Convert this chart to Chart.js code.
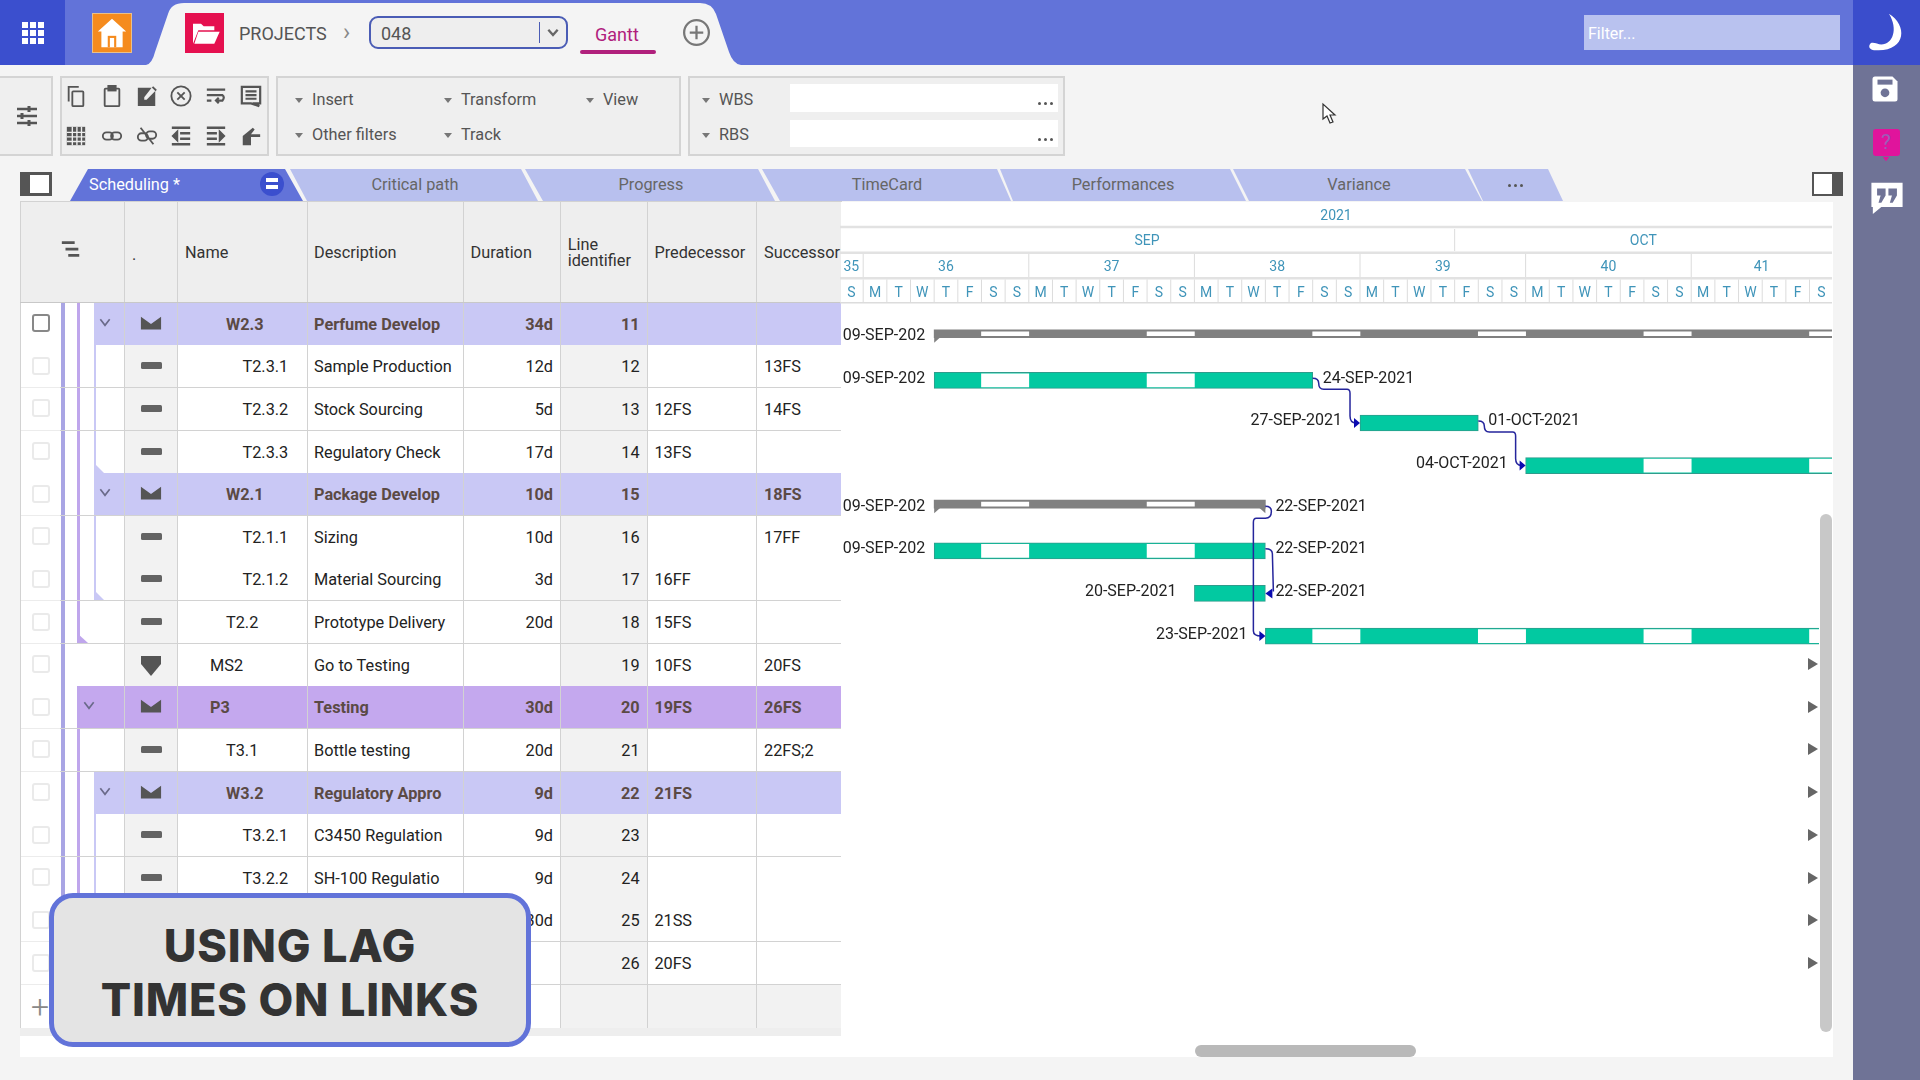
<!DOCTYPE html>
<html>
<head>
<meta charset="utf-8">
<title>Gantt</title>
<script src="https://cdn.jsdelivr.net/npm/chart.js@4/dist/chart.umd.min.js"></script>
<style>
html, body { margin: 0; padding: 0; width: 1920px; height: 1080px; overflow: hidden; background: #f4f4f4; font-family: Roboto, sans-serif; color: #333; }
.abs { position: absolute; }
.t { position: absolute; white-space: nowrap; transform: translateY(-50%); }
.box { position: absolute; background: #efefef; border: 2px solid #d4d4d4; box-sizing: border-box; }
svg { position: absolute; overflow: visible; }
#ganttWrap { position: absolute; left: 840px; top: 202px; width: 992px; height: 839px; }
#ganttWrap canvas { display: block; }
</style>
</head>
<body>
<div id="app"></div>
<div id="ganttBack" class="abs" style="left:841px;top:202px;width:992px;height:855px;background:#fff"></div>
<div id="ganttWrap"><canvas id="gantt" width="992" height="839"></canvas></div>
<div id="over"></div>
<script>
// ---- table columns ----
const rowKinds = ['wp','task','task','task','wp','task','task','task','ms','phase','task','wp','task','task','task','task'];
const rowLevels = [2,3,3,3,2,3,3,2,0,0,2,2,3,3,3,2];
const wbsNames = ['W2.3','T2.3.1','T2.3.2','T2.3.3','W2.1','T2.1.1','T2.1.2','T2.2','MS2','P3','T3.1','W3.2','T3.2.1','T3.2.2','',''];
const descriptions = ['Perfume Develop','Sample Production','Stock Sourcing','Regulatory Check','Package Develop','Sizing','Material Sourcing','Prototype Delivery','Go to Testing','Testing','Bottle testing','Regulatory Appro','C3450 Regulation','SH-100 Regulatio','',''];
const durations = ['34d','12d','5d','17d','10d','10d','3d','20d','','30d','20d','9d','9d','9d','30d',''];
const lineIds = [11,12,13,14,15,16,17,18,19,20,21,22,23,24,25,26];
const predecessors = ['','','12FS','13FS','','','16FF','15FS','10FS','19FS','','21FS','','','21SS','20FS'];
const successors = ['','13FS','14FS','','18FS','17FF','','','20FS','26FS','22FS;2','','','','',''];

// ---- gantt values, days counted from 1 Sep 2021 (1 Oct = 31) ----
const dayNumbers = [5,6,7,8,9,10,11,12,13,14,15,16,17,18,19,20,21,22,23,24,25,26,27,28,29,30,31,32,33,34,35,36,37,38,39,40,41,42,43,44,45,46];
const dayLetters = ['S','M','T','W','T','F','S','S','M','T','W','T','F','S','S','M','T','W','T','F','S','S','M','T','W','T','F','S','S','M','T','W','T','F','S','S','M','T','W','T','F','S'];
const weekLabels = ['35','36','37','38','39','40','41'];
const weekStarts = [5,6,13,20,27,34,41];
const monthLabels = ['SEP','OCT'];
const monthStarts = [5,31];
const yearLabel = '2021';

const taskRows = [1,2,3,5,6,7];
const taskStarts = [9,27,34,9,20,23];
const taskEnds = [25,32,60,23,23,60];
const summaryRows = [0,4];
const summaryStarts = [9,9];
const summaryEnds = [60,23];

const taskOffRows = [1,1,3,3,5,5,7,7,7,7];
const taskOffStarts = [11,18,39,46,11,18,25,32,39,46];
const taskOffEnds = [13,20,41,48,13,20,27,34,41,48];
const summaryOffRows = [0,0,0,0,0,0,4,4];
const summaryOffStarts = [11,18,25,32,39,46,11,18];
const summaryOffEnds = [13,20,27,34,41,48,13,20];

const startLabelRows = [0,1,2,3,4,5,6,7];
const startLabelDays = [9,9,27,34,9,9,20,23];
const startLabels = ['09-SEP-202','09-SEP-202','27-SEP-2021','04-OCT-2021','09-SEP-202','09-SEP-202','20-SEP-2021','23-SEP-2021'];
const endLabelRows = [1,2,4,5,6];
const endLabelDays = [25,32,23,23,23];
const endLabels = ['24-SEP-2021','01-OCT-2021','22-SEP-2021','22-SEP-2021','22-SEP-2021'];

const linkFromRows = [1,2,5,4];
const linkFromDays = [25,32,23,23];
const linkToRows = [2,3,6,7];
const linkToDays = [27,34,23,23];
const linkTypes = ['FS','FS','FF','SUM'];

// ---- page layout helpers ----
const app = document.getElementById('app');
const over = document.getElementById('over');
const rowTop = i => 302.7 + i * 42.62;
const colX = [20, 124, 177, 307, 463, 560, 647, 756, 841];

function el(parent, css, html) {
    const d = document.createElement('div');
    d.style.cssText = 'position:absolute;' + css;
    if (html !== undefined) d.innerHTML = html;
    parent.appendChild(d);
    return d;
}
function txt(parent, x, y, s, size, color, extra) {
    const d = document.createElement('div');
    d.className = 't';
    d.style.cssText = `left:${x}px;top:${y}px;font-size:${size}px;color:${color};${extra || ''}`;
    d.textContent = s;
    parent.appendChild(d);
    return d;
}
function icon(parent, cx, cy, size, inner, color) {
    const h = size / 2;
    const s = `<svg style="left:${cx - h}px;top:${cy - h}px" width="${size}" height="${size}" viewBox="0 0 24 24" fill="none" stroke="${color}" stroke-width="2">${inner}</svg>`;
    parent.insertAdjacentHTML('beforeend', s);
}
function dots(parent, cx, cy, color) {
    [-6, 0, 6].forEach(d => el(parent, `left:${cx + d - 1.5}px;top:${cy - 1.5}px;width:3px;height:3px;border-radius:50%;background:${color}`));
}

// top bar
el(app, 'left:0;top:0;width:1853px;height:65px;background:#6273d9');
el(app, 'left:0;top:0;width:65px;height:65px;background:#3b4fce');
icon(app, 33, 33, 24, '<g fill="#fff" stroke="none"><rect x="1" y="1" width="6" height="6"/><rect x="9" y="1" width="6" height="6"/><rect x="17" y="1" width="6" height="6"/><rect x="1" y="9" width="6" height="6"/><rect x="9" y="9" width="6" height="6"/><rect x="17" y="9" width="6" height="6"/><rect x="1" y="17" width="6" height="6"/><rect x="9" y="17" width="6" height="6"/><rect x="17" y="17" width="6" height="6"/></g>', '#fff');
el(app, 'left:92px;top:13px;width:40px;height:40px;background:#f58b1e;border:1px solid #e9c08a;box-sizing:border-box');
icon(app, 112, 33, 34, '<path d="M12 2 L22 11 H19.5 V22 H4.5 V11 H2 Z" fill="#fff" stroke="none"/><rect x="9" y="14" width="6" height="8" fill="#f58b1e" stroke="none"/><rect x="10.5" y="15.5" width="3" height="6.5" fill="#fff" stroke="none"/>', '#fff');
el(app, 'left:0;top:0;width:800px;height:65px', `<svg style="left:0;top:0" width="800" height="65"><path d="M146 65 Q152 64 155 52 L168 14 Q171 3 184 3 H700 Q712 3 716 14 L729 52 Q733 64 741 65 Z" fill="#f4f4f4"/></svg>`);
el(app, 'left:185px;top:13px;width:39px;height:40px;background:#e5104f');
icon(app, 205, 33, 32, '<path d="M3 5 H9 L11 7 H19 V10 H7 L3 20 Z" fill="#fff" stroke="none"/><path d="M7 11 H23 L19 20 H4 Z" fill="#fff" stroke="none"/>', '#fff');
txt(app, 239, 33, 'PROJECTS', 18, '#555');
txt(app, 343, 32, '›', 24, '#888');
el(app, 'left:369px;top:16px;width:199px;height:33px;background:#eee;border:2px solid #4a5cb5;border-radius:9px;box-sizing:border-box');
txt(app, 381, 33, '048', 18, '#555');
el(app, 'left:539px;top:22px;width:1px;height:21px;background:#4a5cb5');
icon(app, 553, 32, 14, '<path d="M4 8 L12 17 L20 8" stroke-width="4"/>', '#666');
txt(app, 595, 34, 'Gantt', 18, '#b0207c');
el(app, 'left:580px;top:50px;width:76px;height:4px;background:#b0207c;border-radius:2px');
icon(app, 696, 32, 27, '<circle cx="12" cy="12" r="11"/><path d="M12 6 V18 M6 12 H18"/>', '#777');
el(app, 'left:1584px;top:15px;width:256px;height:35px;background:#b9c2ef');
txt(app, 1588, 33, 'Filter...', 16, '#fff');

// right sidebar
el(app, 'left:1853px;top:0;width:67px;height:1080px;background:#6f7396');
el(app, 'left:1853px;top:0;width:67px;height:65px;background:#3a4dcc');
icon(app, 1887, 33, 46, '<path d="M13 2 C23 8 22 22 6 21 C4 21 2 20 3 18 C4 16 7 18 9 18 C15 18 18 10 13 2 Z" fill="#fff" stroke="none"/>', '#fff');
icon(app, 1885, 89, 30, '<path d="M2 4 Q2 2 4 2 H18 L22 6 V20 Q22 22 20 22 H4 Q2 22 2 20 Z" fill="#fff" stroke="none"/><rect x="6" y="4.5" width="12" height="4" fill="#6f7396" stroke="none"/><circle cx="12" cy="15" r="3.5" fill="#6f7396" stroke="none"/>', '#fff');
el(app, 'left:1873px;top:129px;width:27px;height:27px;background:#e0149c;border-radius:3px');
icon(app, 1886, 160, 8, '<path d="M2 2 H22 L12 16 Z" fill="#e0149c" stroke="none"/>', '#e0149c');
txt(app, 1881, 142, '?', 21, '#9c5cb8');
icon(app, 1887, 197, 34, '<path d="M1 2 H23 V19 H8 L2 24 V19 H1 Z" fill="#fff" stroke="none"/><path d="M5 6 H11 V11 L8 16 H6 L7.5 11 H5 Z M13 6 H19 V11 L16 16 H14 L15.5 11 H13 Z" fill="#6f7396" stroke="none"/>', '#fff');

// toolbar
[[-2, 55], [60, 209], [276, 405], [688, 377]].forEach(b => {
    el(app, `left:${b[0]}px;top:76px;width:${b[1]}px;height:80px`).className = 'box';
});
icon(app, 27, 116, 24, '<path d="M2 5 H22 M2 12 H22 M2 19 H22" stroke-width="2.5"/><path d="M14 2 V8 M7 9 V15 M14 16 V22" stroke-width="3"/>', '#555');
const toolIcons = [
    '<rect x="8" y="7" width="12" height="16" rx="1"/><path d="M4 18 V2 H15"/>',
    '<rect x="4" y="4" width="16" height="19" rx="1"/><rect x="8" y="1" width="8" height="5" fill="#555"/>',
    '<path d="M3 4 H15 L8 13 V17 H12 L20 9 V22 H3 Z" fill="#555"/><path d="M18 2 L22 6" />',
    '<circle cx="12" cy="12" r="10.5"/><path d="M8 8 L16 16 M16 8 L8 16"/>',
    '<path d="M2 5 H22 M2 11 H19 Q22 13 19 17 H13 M2 17 H7 M15 14 L12 17 L15 20" stroke-width="2.4"/>',
    '<path d="M2 2 H22 V20 H17 L21 23 L12 20 H2 Z M6 7 H18 M6 11 H18 M6 15 H18" stroke-width="2.4"/>',
    '<rect x="2" y="2" width="20" height="20" fill="#555" stroke="none"/><path d="M2 8 H22 M2 13 H22 M2 18 H22 M8 2 V22 M13 2 V22 M18 2 V22" stroke="#eee" stroke-width="1.5"/>',
    '<rect x="2" y="8" width="11" height="8" rx="4"/><rect x="11" y="8" width="11" height="8" rx="4"/>',
    '<rect x="2" y="9" width="11" height="8" rx="4"/><rect x="11" y="7" width="11" height="8" rx="4"/><path d="M5 3 L19 21"/>',
    '<path d="M2 3 H22 M11 9 H22 M11 15 H22 M2 21 H22" stroke-width="2.6"/><path d="M8 7 L3 12 L8 17 Z" fill="#555"/>',
    '<path d="M2 3 H22 M2 9 H13 M2 15 H13 M2 21 H22" stroke-width="2.6"/><path d="M16 7 L21 12 L16 17 Z" fill="#555"/>',
    '<path d="M3 22 V12 L14 3 L16 5 L12 10 H22 V13 H12 V22 Z" fill="#555" stroke="none"/>'
];
const toolX = [76, 112, 147, 181, 216, 251];
toolIcons.forEach((p, i) => icon(app, toolX[i % 6], i < 6 ? 96 : 136, 22, p, '#555'));

const menuLabels = ['Insert', 'Transform', 'View', 'Other filters', 'Track', 'WBS', 'RBS'];
const menuX = [312, 461, 603, 312, 461, 719, 719];
const menuY = [99, 99, 99, 134, 134, 99, 134];
menuLabels.forEach((m, i) => {
    txt(app, menuX[i], menuY[i], m, 16.3, '#555');
    el(app, `left:${menuX[i] - 17}px;top:${menuY[i] - 1}px;width:0;height:0;border-left:4px solid transparent;border-right:4px solid transparent;border-top:5px solid #777`);
});
[84, 120].forEach(y => {
    el(app, `left:790px;top:${y}px;width:268px;height:${y === 84 ? 28 : 27}px;background:#fff`);
    dots(app, 1045, y + 19, '#555');
});

// tabs
const tabLabels = ['Scheduling *', 'Critical path', 'Progress', 'TimeCard', 'Performances', 'Variance', ''];
const tabShapes = [[70,88,285,303],[307,290,521,538],[543,525,758,775],[780,762,997,1011],[1013,1000,1230,1246],[1249,1233,1465,1482],[1483,1468,1548,1563]];
const tabCenters = [0, 415, 651, 887, 1123, 1359, 1515];
tabLabels.forEach((t, i) => {
    const s = tabShapes[i];
    const fill = i === 0 ? '#6273d9' : '#b8c0ee';
    el(app, 'left:0;top:169px;width:1600px;height:32px', `<svg style="left:0;top:0" width="1600" height="32"><path d="M${s[0]} 32 L${s[1]} 0 H${s[2]} L${s[3]} 32 Z" fill="${fill}"/></svg>`);
    if (i === 0) txt(app, 89, 184, t, 16.3, '#fff');
    else if (t) txt(app, tabCenters[i], 184, t, 16.3, '#666', 'transform:translate(-50%,-50%)');
});
dots(app, 1515, 185, '#555');
el(app, 'left:260px;top:172px;width:24px;height:24px;border-radius:50%;background:#3b4fce');
el(app, 'left:266px;top:178px;width:12px;height:4px;background:#fff');
el(app, 'left:266px;top:185px;width:12px;height:4px;background:#fff');
el(app, 'left:20px;top:172px;width:32px;height:24px;background:#fff;border:3px solid #555;border-left-width:10px;box-sizing:border-box');
el(app, 'left:1812px;top:172px;width:31px;height:24px;background:#fff;border:2px solid #555;border-right-width:11px;box-sizing:border-box');

// table header
el(app, `left:20px;top:201px;width:821px;height:101.7px;background:#eee`);
txt(app, 185, 252, 'Name', 16.3, '#333');
txt(app, 314, 252, 'Description', 16.3, '#333');
txt(app, 470.6, 252, 'Duration', 16.3, '#333');
txt(app, 567.7, 244, 'Line', 16.3, '#333');
txt(app, 567.7, 260, 'identifier', 16.3, '#333');
txt(app, 654.4, 252, 'Predecessor', 16.3, '#333');
txt(app, 764, 252, 'Successor', 16.3, '#333');
txt(app, 132, 254, '.', 16.3, '#333');
icon(app, 71, 249, 22, '<path d="M2 5 H16 M6 12 H20 M9 19 H21" stroke-width="3"/>', '#555');

// table body
const rowBand = { wp: '#c9c8f5', phase: '#c4a8ee' };
const bandStart = { wp: 93.5, phase: 77 };
const textPad = [210, 0, 226, 242.5];
lineIds.forEach((id, i) => {
    const top = rowTop(i), kind = rowKinds[i], mid = top + 21;
    const bold = kind === 'wp' || kind === 'phase';
    const ink = bold ? '#5b4a45' : '#222';
    const weight = bold ? 'font-weight:700;' : '';
    el(app, `left:60px;top:${top}px;width:781px;height:42.62px;background:#fff`);
    el(app, `left:124px;top:${top}px;width:53.2px;height:42.62px;background:#f2f2f2`);
    el(app, `left:560px;top:${top}px;width:87px;height:42.62px;background:#f2f2f2`);
    el(app, `left:20px;top:${top}px;width:40px;height:42.62px;background:#fff`);
    if (bold) {
        el(app, `left:${bandStart[kind]}px;top:${top}px;width:${841 - bandStart[kind]}px;height:42.62px;background:${rowBand[kind]}`);
        const cx = bandStart[kind] + 11.5;
        icon(app, cx, mid - 2, 16, '<path d="M5 8 L12 17 L19 8" stroke-width="2.5"/>', '#6a6a8a');
    }
    // checkbox
    el(app, `left:32px;top:${mid - 9.5}px;width:18px;height:18px;box-sizing:border-box;background:#fff;border-radius:3px;border:${i === 0 ? '2px solid #888' : '2px solid #eaeaea'}`);
    // type icon
    if (bold) icon(app, 151, mid, 22, '<path d="M1 4 L12 12 L23 4 V18 H1 Z" fill="#555" stroke="none"/>', '#555');
    else if (kind === 'task') el(app, `left:140.5px;top:${mid - 4}px;width:21px;height:7px;border-radius:1.5px;background:#636363`);
    else icon(app, 151, mid, 24, '<path d="M2 3 H22 V11 L12 23 L2 11 Z" fill="#555" stroke="none"/>', '#555');
    // text cells
    if (wbsNames[i]) txt(app, textPad[rowLevels[i]], mid, wbsNames[i], 16.3, ink, weight);
    if (descriptions[i]) txt(app, 314, mid, descriptions[i], 16.3, ink, weight);
    if (durations[i]) txt(app, 553, mid, durations[i], 16.3, ink, weight + 'transform:translate(-100%,-50%)');
    txt(app, 639.6, mid, String(id), 16.3, ink, weight + 'transform:translate(-100%,-50%)');
    if (predecessors[i]) txt(app, 654.4, mid, predecessors[i], 16.3, ink, weight);
    if (successors[i]) txt(app, 764, mid, successors[i], 16.3, ink, weight);
    // tree guides
    el(app, `left:61px;top:${top}px;width:3.5px;height:42.62px;background:#a9a5e4`);
    if (i !== 8) el(app, `left:77px;top:${top}px;width:3px;height:42.62px;background:#bfa6ec`);
    if ([1, 2, 3, 5, 6, 12, 13].includes(i)) el(app, `left:93.5px;top:${top}px;width:2.5px;height:42.62px;background:#c9c8f5`);
    el(app, `left:60px;top:${top + 42}px;width:781px;height:1px;background:#d2d2d2`);
    el(app, `left:20px;top:${top + 42}px;width:40px;height:1px;background:#ececec`);
    // group end corners
    if (i === 3 || i === 6) el(app, `left:94px;top:${top + 32}px;width:0;height:0;border-left:10px solid #c9c8f5;border-top:10px solid transparent`);
    if (i === 7) el(app, `left:77px;top:${top + 32}px;width:0;height:0;border-left:11px solid #bfa6ec;border-top:10px solid transparent`);
});
// empty add row
el(app, `left:20px;top:${rowTop(16)}px;width:821px;height:43px;background:#f2f2f2`);
el(app, `left:20px;top:${rowTop(16)}px;width:540px;height:43px;background:#fff`);
txt(app, 31, rowTop(16) + 22, '+', 32, '#888', 'font-weight:300');
el(app, 'left:20px;top:1028px;width:821px;height:8px;background:#eee');
el(app, 'left:20px;top:1036px;width:821px;height:21px;background:#fff');
colX.forEach(x => el(app, `left:${x}px;top:201px;width:1px;height:827px;background:#d2d2d2`));
el(app, 'left:20px;top:301.5px;width:821px;height:1.5px;background:#c8c8c8');
el(app, 'left:20px;top:201px;width:821px;height:1px;background:#d2d2d2');

// ---- gantt chart ----
const toBars = (rows, starts, ends) => rows.map((r, i) => ({ x: [starts[i], ends[i]], y: r }));

const ganttHeader = {
    id: 'ganttHeader',
    beforeDatasetsDraw(chart) {
        const { ctx, scales: { x } } = chart;
        const right = chart.width;
        ctx.save();
        ctx.fillStyle = '#3f94b9';
        ctx.textAlign = 'center';
        ctx.textBaseline = 'middle';
        ctx.font = '14px Roboto';
        ctx.fillText(yearLabel, 496, 14);
        // horizontal rules between header bands
        ctx.strokeStyle = '#e2e2e2';
        ctx.lineWidth = 2.5;
        [25, 50.7, 76.3].forEach(y => { ctx.beginPath(); ctx.moveTo(0, y); ctx.lineTo(right, y); ctx.stroke(); });
        ctx.lineWidth = 1.5;
        ctx.strokeStyle = '#dcdcdc';
        ctx.beginPath(); ctx.moveTo(0, 100.7); ctx.lineTo(right, 100.7); ctx.stroke();
        ctx.lineWidth = 1;
        monthLabels.forEach((m, i) => {
            const a = x.getPixelForValue(monthStarts[i]);
            const b = i + 1 < monthStarts.length ? x.getPixelForValue(monthStarts[i + 1]) : right;
            if (i > 0) { ctx.beginPath(); ctx.moveTo(a, 27); ctx.lineTo(a, 49); ctx.stroke(); }
            ctx.fillText(m, (a + b) / 2, 39);
        });
        weekLabels.forEach((w, i) => {
            const a = x.getPixelForValue(weekStarts[i]);
            const b = i + 1 < weekStarts.length ? x.getPixelForValue(weekStarts[i + 1]) : right;
            if (i > 0) { ctx.beginPath(); ctx.moveTo(a, 52); ctx.lineTo(a, 75); ctx.stroke(); }
            ctx.fillText(w, (a + b) / 2, 65);
        });
        dayNumbers.forEach((d, i) => {
            if (i === 0) return;
            const a = x.getPixelForValue(d);
            ctx.beginPath(); ctx.moveTo(a, 77.5); ctx.lineTo(a, 100); ctx.stroke();
        });
        ctx.restore();
    }
};

const ganttMarks = {
    id: 'ganttMarks',
    afterDatasetsDraw(chart) {
        const { ctx, scales: { x, y } } = chart;
        ctx.save();
        // little tips hanging from the summary bars
        ctx.fillStyle = '#808080';
        summaryRows.forEach((r, i) => {
            const top = y.getPixelForValue(r) - 2;
            const a = x.getPixelForValue(summaryStarts[i]);
            ctx.beginPath(); ctx.moveTo(a, top - 1); ctx.lineTo(a + 9, top - 1); ctx.lineTo(a, top + 7); ctx.closePath(); ctx.fill();
            if (summaryEnds[i] < x.max) {
                const b = x.getPixelForValue(summaryEnds[i]);
                ctx.beginPath(); ctx.moveTo(b, top - 1); ctx.lineTo(b - 9, top - 1); ctx.lineTo(b, top + 7); ctx.closePath(); ctx.fill();
            }
        });
        // links
        ctx.strokeStyle = '#25259c';
        ctx.fillStyle = '#0a0ab0';
        ctx.lineWidth = 1.5;
        ctx.lineJoin = 'round';
        linkTypes.forEach((type, i) => {
            const x0 = x.getPixelForValue(linkFromDays[i]);
            const x1 = x.getPixelForValue(linkToDays[i]);
            const y0 = y.getPixelForValue(linkFromRows[i]);
            const y1 = y.getPixelForValue(linkToRows[i]);
            ctx.beginPath();
            if (type === 'FS') {
                ctx.moveTo(x0, y0 - 2);
                ctx.quadraticCurveTo(x0 + 6, y0 - 2, x0 + 6, y0 + 3);
                ctx.quadraticCurveTo(x0 + 6, y0 + 9, x0 + 11, y0 + 9);
                ctx.lineTo(x1 - 13, y0 + 9);
                ctx.quadraticCurveTo(x1 - 10, y0 + 9, x1 - 10, y0 + 13);
                ctx.lineTo(x1 - 10, y1 - 7);
                ctx.quadraticCurveTo(x1 - 10, y1, x1 - 4, y1);
            } else if (type === 'SUM') {
                ctx.moveTo(x0, y0 - 2);
                ctx.quadraticCurveTo(x0 + 6, y0 - 2, x0 + 6, y0 + 3);
                ctx.quadraticCurveTo(x0 + 6, y0 + 10, x0, y0 + 10);
                ctx.lineTo(x0 - 9, y0 + 10);
                ctx.quadraticCurveTo(x0 - 12, y0 + 10, x0 - 12, y0 + 14);
                ctx.lineTo(x0 - 12, y1 - 5);
                ctx.quadraticCurveTo(x0 - 12, y1, x1 - 4, y1);
            } else {
                ctx.moveTo(x0, y0 - 2);
                ctx.quadraticCurveTo(x0 + 7, y0 - 2, x0 + 7, y0 + 3);
                ctx.lineTo(x0 + 8, y1 - 2);
            }
            ctx.stroke();
            ctx.beginPath();
            if (type === 'FF') {
                ctx.moveTo(x1, y1); ctx.lineTo(x1 + 7, y1 - 5); ctx.lineTo(x1 + 7, y1 + 5);
            } else {
                ctx.moveTo(x1, y1); ctx.lineTo(x1 - 6, y1 - 5); ctx.lineTo(x1 - 6, y1 + 5);
            }
            ctx.closePath();
            ctx.fill();
        });
        // date labels either side of the bars
        ctx.fillStyle = '#222';
        ctx.font = '16px Roboto';
        ctx.textBaseline = 'middle';
        ctx.textAlign = 'right';
        startLabels.forEach((s, i) => {
            const gap = s.length < 11 ? 9 : 18;
            ctx.fillText(s, x.getPixelForValue(startLabelDays[i]) - gap, y.getPixelForValue(startLabelRows[i]) - 1.5);
        });
        ctx.textAlign = 'left';
        endLabels.forEach((s, i) => {
            ctx.fillText(s, x.getPixelForValue(endLabelDays[i]) + 10, y.getPixelForValue(endLabelRows[i]) - 1.5);
        });
        ctx.restore();
    }
};

new Chart(document.getElementById('gantt'), {
    type: 'bar',
    plugins: [ganttHeader, ganttMarks],
    data: {
        datasets: [
            { data: toBars(taskOffRows, taskOffStarts, taskOffEnds), yAxisID: 'y', grouped: false, barThickness: 13, backgroundColor: '#ffffff', order: 1 },
            { data: toBars(summaryOffRows, summaryOffStarts, summaryOffEnds), yAxisID: 'y2', grouped: false, barThickness: 4, backgroundColor: '#ffffff', order: 1 },
            { data: toBars(taskRows, taskStarts, taskEnds), yAxisID: 'y', grouped: false, barThickness: 16, backgroundColor: '#02c9a1', borderColor: '#2e9c8c', borderWidth: 1, borderSkipped: false, order: 2 },
            { data: toBars(summaryRows, summaryStarts, summaryEnds), yAxisID: 'y2', grouped: false, barThickness: 8, backgroundColor: '#808080', order: 2 }
        ]
    },
    options: {
        indexAxis: 'y',
        responsive: false,
        animation: false,
        events: [],
        layout: { padding: 0, autoPadding: false },
        plugins: { legend: { display: false }, tooltip: { enabled: false } },
        scales: {
            x: {
                type: 'linear',
                position: 'top',
                min: 5.02,
                max: 46.95,
                grid: { display: false },
                border: { display: false },
                afterBuildTicks: axis => { axis.ticks = dayNumbers.map(d => ({ value: d + 0.5 })); },
                // the day letters must not push the plot area in from the edges
                afterFit: axis => { axis.height = 114.4; axis.paddingLeft = 0; axis.paddingRight = 0; },
                ticks: {
                    autoSkip: false,
                    maxRotation: 0,
                    padding: 7,
                    color: '#3f94b9',
                    font: { family: 'Roboto', size: 14 },
                    callback: v => dayLetters[dayNumbers.indexOf(v - 0.5)]
                }
            },
            y: { type: 'linear', reverse: true, offset: false, min: -0.5, max: 16.5, display: false },
            // summary bars sit a few pixels above the row middle, so they get their own shifted axis
            y2: { type: 'linear', reverse: true, offset: false, min: -0.406, max: 16.594, display: false }
        }
    }
});

// ---- things on top of the chart ----
el(over, 'left:1819px;top:514px;width:14px;height:530px;background:#fff');
el(over, 'left:1820px;top:514px;width:12px;height:518px;background:#c8c8c8;border-radius:6px');
[664, 706.5, 749, 792, 835, 877.5, 920, 963].forEach(y => {
    el(over, `left:1808px;top:${y - 6}px;width:0;height:0;border-top:6px solid transparent;border-bottom:6px solid transparent;border-left:10px solid #666`);
});
el(over, 'left:1195px;top:1045px;width:221px;height:12px;background:#b9b9b9;border-radius:6px');
over.insertAdjacentHTML('beforeend', '<svg style="left:1322px;top:103px" width="16" height="22" viewBox="0 0 16 22"><path d="M1 1 V16 L5 13 L8 20 L11 19 L8 12 L13 12 Z" fill="#fff" stroke="#333" stroke-width="1.2"/></svg>');
// caption
el(over, 'left:49px;top:893px;width:482px;height:154px;box-sizing:border-box;background:#e4e4e4;border:5px solid #6273d9;border-radius:24px');
txt(over, 290, 945, 'USING LAG', 45, '#333', 'font-family:Inter;font-weight:800;letter-spacing:0.8px;transform:translate(-50%,-50%)');
txt(over, 290, 999, 'TIMES ON LINKS', 45, '#333', 'font-family:Inter;font-weight:800;letter-spacing:0.8px;transform:translate(-50%,-50%)');
</script>
</body>
</html>
